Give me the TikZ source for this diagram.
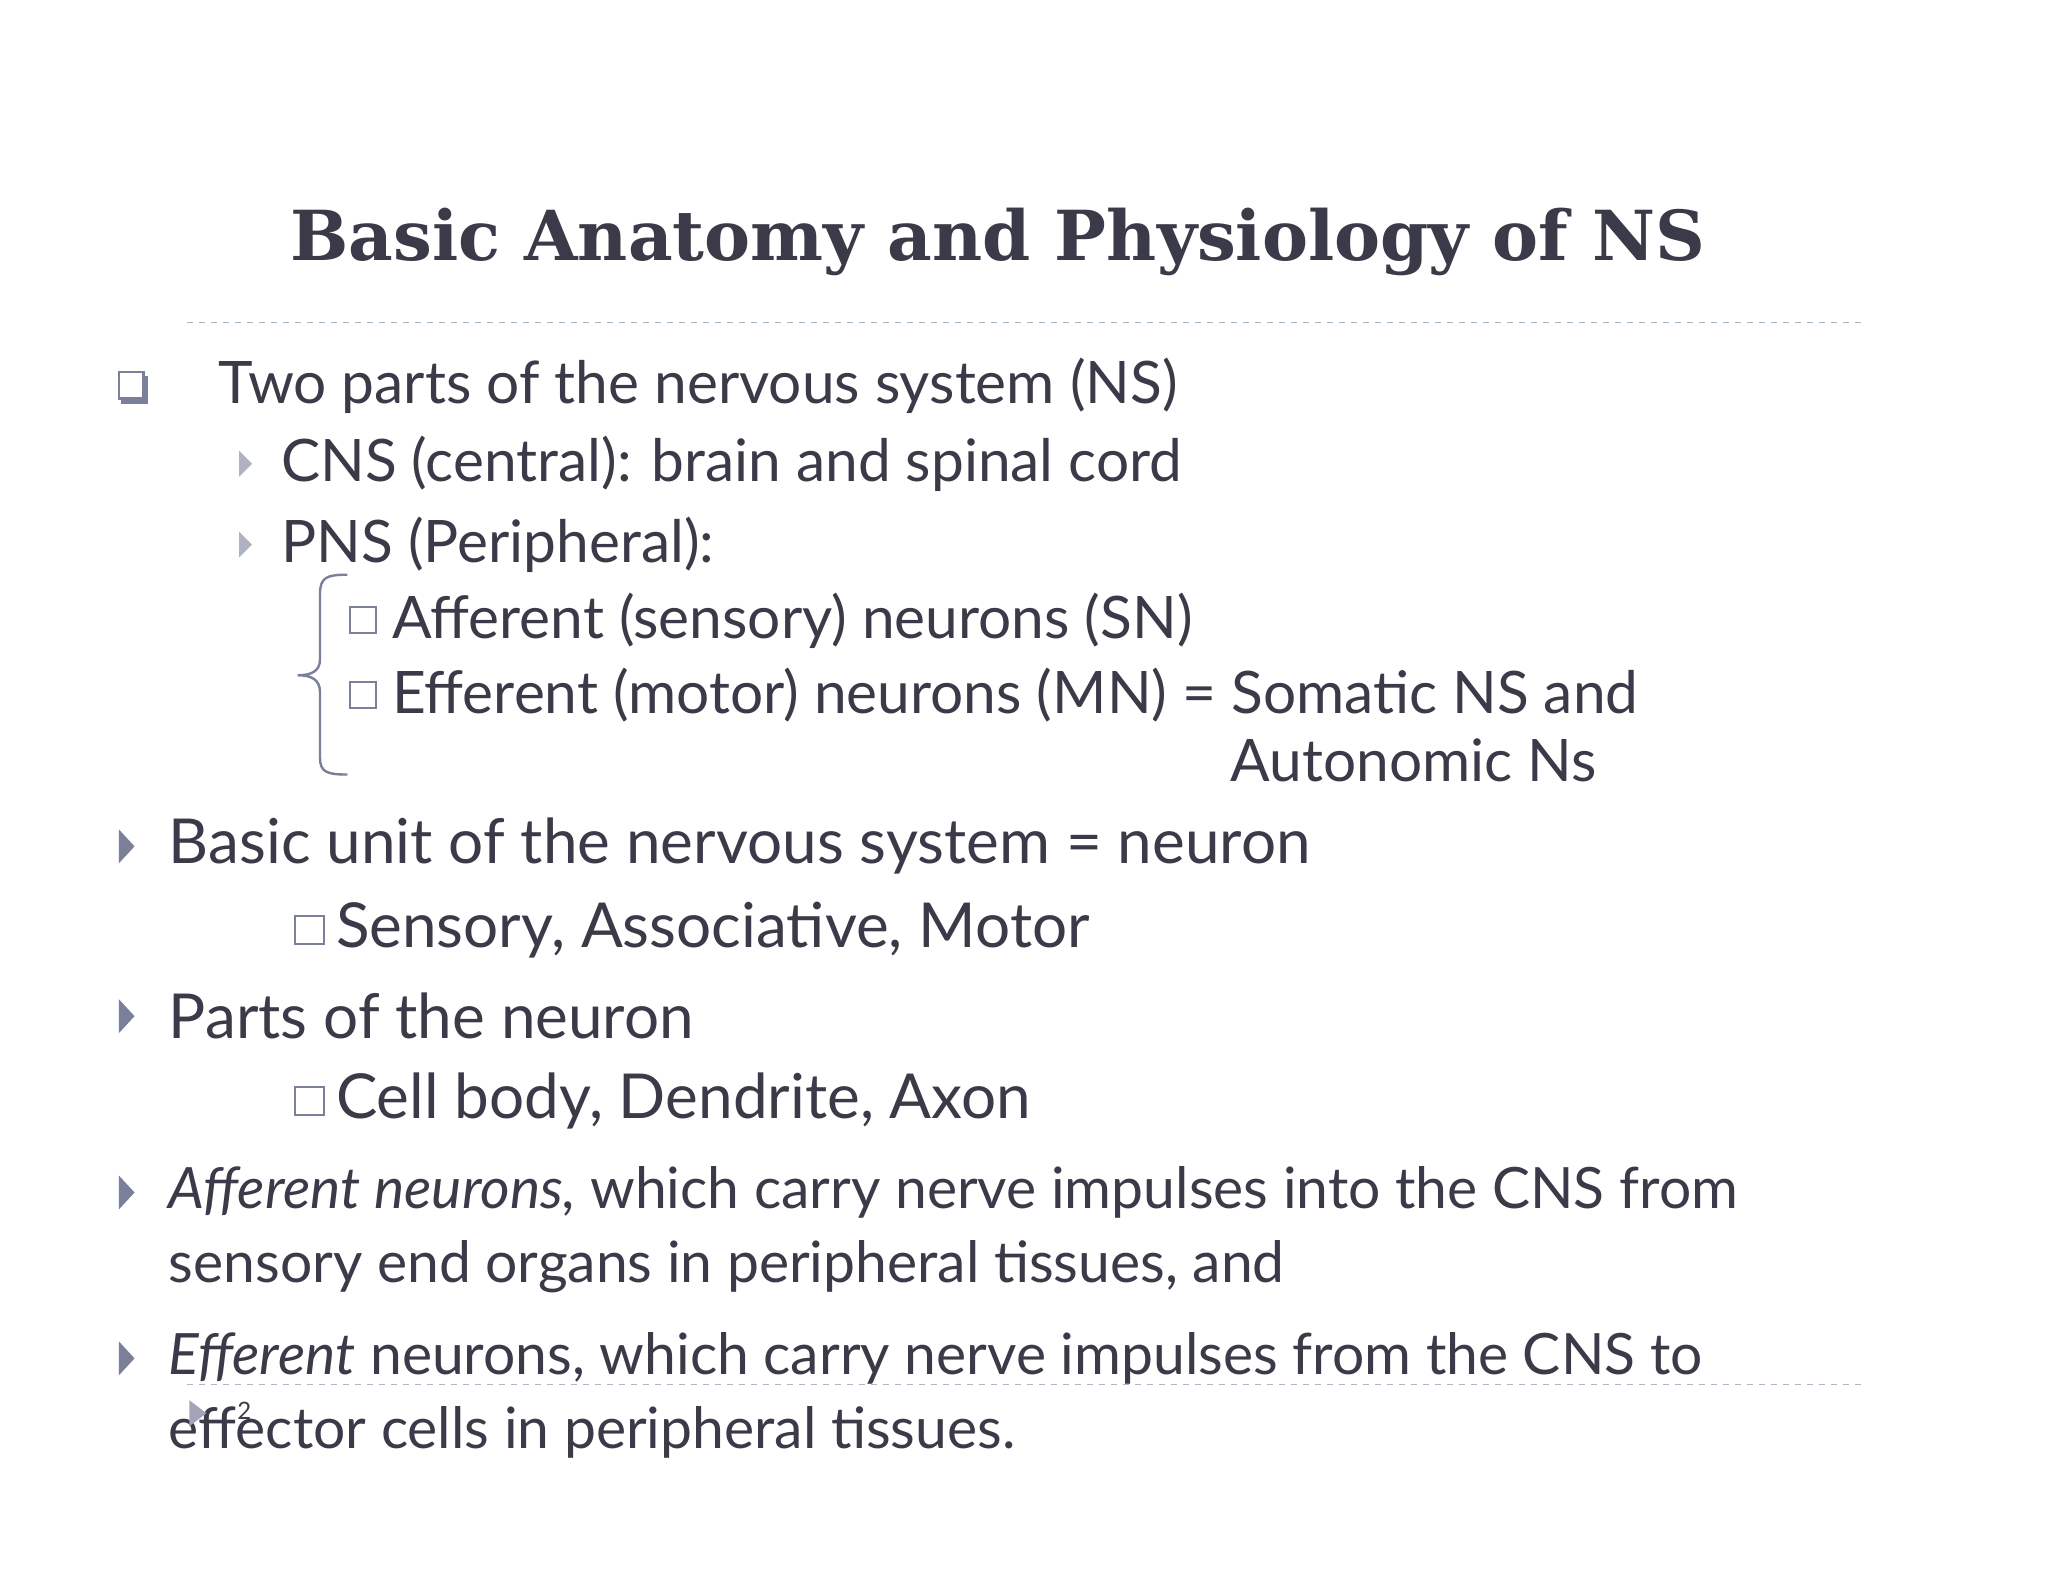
\documentclass[tikz,border=0pt]{standalone}
\usepackage{fontspec}
\setmainfont{Lato}
\newfontfamily\titlefont{DejaVu Serif}
\definecolor{txt}{HTML}{3A3A48}
\definecolor{bul}{HTML}{7A7F9A}
\definecolor{dashcol}{HTML}{A9B8C6}
\tikzset{
 x=0.6531pt,y=-0.6531pt,
 t/.style={anchor=west,inner sep=0,text=txt,font=\fontsize{29.3}{33}\selectfont},
 tb/.style={t,font=\fontsize{31}{36}\selectfont},
 tc/.style={t,font=\fontsize{28.5}{33}\selectfont},
 box/.style={draw=bul,line width=1pt,fill=white},
 dl/.style={draw=dashcol,dashed,line width=0.8pt}
}
\begin{document}
\begin{tikzpicture}
\useasboundingbox[fill=white] (0,0) rectangle (1568,1211);
\node[inner sep=0,text=txt,font=\titlefont\bfseries\fontsize{34.5}{40}\selectfont] (title) at (764,185) {Basic Anatomy and Physiology of NS};
\coordinate (d1a) at (143,247); \coordinate (d1b) at (1425,247);
\draw[dl] (d1a) -- (d1b);
\coordinate (d2a) at (143,1060); \coordinate (d2b) at (1425,1060);
\draw[dl] (d2a) -- (d2b);
\draw[bul,fill=white,line width=1.2pt] (91,285) rectangle (110,305);
\fill[bul] (93,305) rectangle (113,309); \fill[bul] (110,288) rectangle (113,309);
\node[t] (a1) at (167,295) {Two parts of the nervous system (NS)};
\foreach \yy in {355,417}{\fill[bul!60] (183,\yy-10) -- (193,\yy) -- (183,\yy+10) -- cycle;}
\node[t] (a2) at (215,355) {CNS (central): brain and spinal cord};
\node[t] (a3) at (215,417) {PNS (Peripheral):};
\draw[bul,line width=1.2pt] (266,440) .. controls (250,440) and (245,442) .. (245,455) -- (245,505) .. controls (245,514) and (238,517) .. (228,517) .. controls (238,517) and (245,520) .. (245,530) -- (245,580) .. controls (245,591) and (250,593) .. (266,593);
\foreach \yy in {475,532}{\draw[box] (268,\yy-10) rectangle (288,\yy+10);}
\node[t] (a4) at (300,475) {Afferent (sensory) neurons (SN)};
\node[t] (a5) at (300,532) {Efferent (motor) neurons (MN) = Somatic NS and};
\node[t] (a6) at (942,582) {Autonomic Ns};
\foreach \yy in {648,778,913,1040}{\fill[bul] (91,\yy-13) -- (103,\yy) -- (91,\yy+13) -- cycle;}
\node[tb] (b1) at (129,648) {Basic unit of the nervous system = neuron};
\foreach \yy in {712,843}{\draw[box] (226,\yy-11) rectangle (248,\yy+11);}
\node[tb] (b2) at (257,712) {Sensory, Associative, Motor};
\node[tb] (b3) at (129,778) {Parts of the neuron};
\node[tb] (b4) at (257,843) {Cell body, Dendrite, Axon};
\node[tc] (c1) at (129,913) {\itshape Afferent neurons,\upshape{} which carry nerve impulses into the CNS from};
\node[tc] (c2) at (129,970) {sensory end organs in peripheral tissues, and};
\node[tc] (c3) at (129,1040) {\itshape Efferent\upshape{} neurons, which carry nerve impulses from the CNS to};
\node[tc] (c4) at (129,1097) {effector cells in peripheral tissues.};
\fill[bul!70] (145,1072) -- (158,1082) -- (145,1092) -- cycle;
\node[inner sep=0,text=txt,font=\fontsize{12}{14}\selectfont] (pg) at (187,1080) {2};
\end{tikzpicture}
\end{document}
